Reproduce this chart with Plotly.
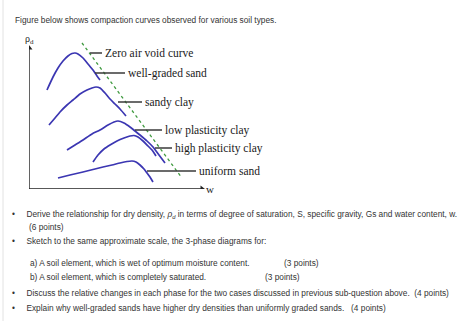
import plotly.graph_objects as go

W, H = 474, 321

# ---- data (schematic units: w = water content, rho = dry density) ----
wg_w = [18, 24, 29, 34, 39, 43, 46, 49, 54, 59, 64, 68, 71]
wg_r = [99, 112, 121, 128, 133, 135.5, 136, 135, 131, 125, 119, 113, 109]

sc_w = [20, 26, 31, 38, 44, 51, 58, 63, 67, 71, 76, 81, 86, 91, 97]
sc_r = [64, 71, 77, 84, 89, 95, 99, 101, 102, 101, 96, 90, 85, 80, 73]

lp_w = [38, 46, 54, 63, 71, 79, 85, 89, 95, 101, 106, 111, 118, 124, 130, 136]
lp_r = [39, 44, 49, 55, 59, 64, 67, 68, 66, 62, 58, 54, 48, 42, 34, 26]

hp_w = [64, 69, 75, 81, 88, 95, 101, 105, 109, 114, 119, 123, 127]
hp_r = [27, 34, 40, 44, 48, 51, 53, 53.5, 52, 48, 43, 39, 33]

us_w = [29, 41, 54, 66, 74, 83, 91, 98, 103, 107, 111, 115, 118, 121, 124]
us_r = [11, 14, 17, 20, 22, 24, 26, 27.5, 28, 27, 24, 20, 16, 12, 7]

zav_w = [53, 153]
zav_r = [146, 11]

label_names = ["Zero air void curve", "well-graded sand", "sandy clay",
               "low plasticity clay", "high plasticity clay", "uniform sand"]
label_from_w = [61, 66, 89, 106, 126, 118]
label_to_w = [73, 96, 113, 133, 143, 167]
label_r = [136, 116, 87, 59, 41, 18]

axis_w_max = 173
axis_r_max = 141

fig = go.Figure()

curve_color = "#3b36b2"
for xs, ys in [(wg_w, wg_r), (sc_w, sc_r), (lp_w, lp_r), (hp_w, hp_r), (us_w, us_r)]:
    fig.add_trace(go.Scatter(x=xs, y=ys, mode="lines", line=dict(color=curve_color, width=1.7, shape="spline", smoothing=0.6),
                             hoverinfo="skip", showlegend=False))
fig.add_trace(go.Scatter(x=zav_w, y=zav_r, mode="lines", line=dict(color="#3f9a3f", width=1.3, dash="dot"),
                         hoverinfo="skip", showlegend=False))

# leader lines and labels
for name, x0, x1, yv in zip(label_names, label_from_w, label_to_w, label_r):
    fig.add_trace(go.Scatter(x=[x0, x1], y=[yv, yv], mode="lines", line=dict(color="#3a3a3a", width=1.5),
                             hoverinfo="skip", showlegend=False))
    fig.add_annotation(x=x1 + 1, y=yv, xref="x", yref="y", text=name, showarrow=False, xanchor="left",
                       yanchor="middle", font=dict(family="Liberation Serif", size=11.5, color="#1a1a1a"))

# axes with arrow tips
fig.add_trace(go.Scatter(x=[0, 0, axis_w_max], y=[axis_r_max, 0, 0], mode="lines",
                         line=dict(color="#222", width=1.4), hoverinfo="skip", showlegend=False))
fig.add_trace(go.Scatter(x=[0, axis_w_max], y=[axis_r_max, 0], mode="markers",
                         marker=dict(symbol=["triangle-up", "triangle-right"], size=6, color="#222"),
                         hoverinfo="skip", showlegend=False))
fig.add_annotation(x=0, y=axis_r_max + 9, xref="x", yref="y", text="ρ<sub>d</sub>", showarrow=False,
                   xanchor="center", yanchor="middle", font=dict(family="Liberation Serif", size=10, color="#222"))
fig.add_annotation(x=axis_w_max + 2, y=0, xref="x", yref="y", text="w", showarrow=False,
                   xanchor="left", yanchor="middle", font=dict(family="Liberation Serif", size=11, color="#222"))

# page text
sans = dict(family="Liberation Sans", size=8.3, color="#333")
BUL = "•&nbsp;&nbsp;&nbsp;&nbsp;&nbsp;"
def px_text(x, y, t):
    fig.add_annotation(x=x / W, y=1 - y / H, xref="paper", yref="paper", text=t, showarrow=False,
                       xanchor="left", yanchor="middle", font=sans)

px_text(13, 20, "Figure below shows compaction curves observed for various soil types.")
px_text(10, 214, BUL + "Derive the relationship for dry density, <i>ρ<sub>d</sub></i> in terms of degree of saturation, S, specific gravity, Gs and water content, w.")
px_text(27, 227, "(6 points)")
px_text(10, 241, BUL + "Sketch to the same approximate scale, the 3-phase diagrams for:")
px_text(28, 263, "a) A soil element, which is wet of optimum moisture content.")
px_text(282, 263, "(3 points)")
px_text(28, 277, "b) A soil element, which is completely saturated.")
px_text(263, 277, "(3 points)")
px_text(10, 293, BUL + "Discuss the relative changes in each phase for the two cases discussed in previous sub-question above.  (4 points)")
px_text(10, 308, BUL + "Explain why well-graded sands have higher dry densities than uniformly graded sands.   (4 points)")

# faint page border on the left
fig.add_shape(type="line", xref="paper", yref="paper", x0=3 / W, x1=3 / W, y0=0, y1=1,
              line=dict(color="#e2e2e2", width=1))

y_top_px, y_bot_px = 28, 189
fig.update_layout(
    width=W, height=H, margin=dict(l=0, r=0, t=0, b=0),
    paper_bgcolor="white", plot_bgcolor="rgba(0,0,0,0)",
    xaxis=dict(domain=[29 / W, 1], range=[0, W - 29], visible=False, fixedrange=True),
    yaxis=dict(domain=[(H - y_bot_px) / H, (H - y_top_px) / H], range=[0, y_bot_px - y_top_px],
               visible=False, fixedrange=True),
    showlegend=False,
)
fig.write_html("out.html")
